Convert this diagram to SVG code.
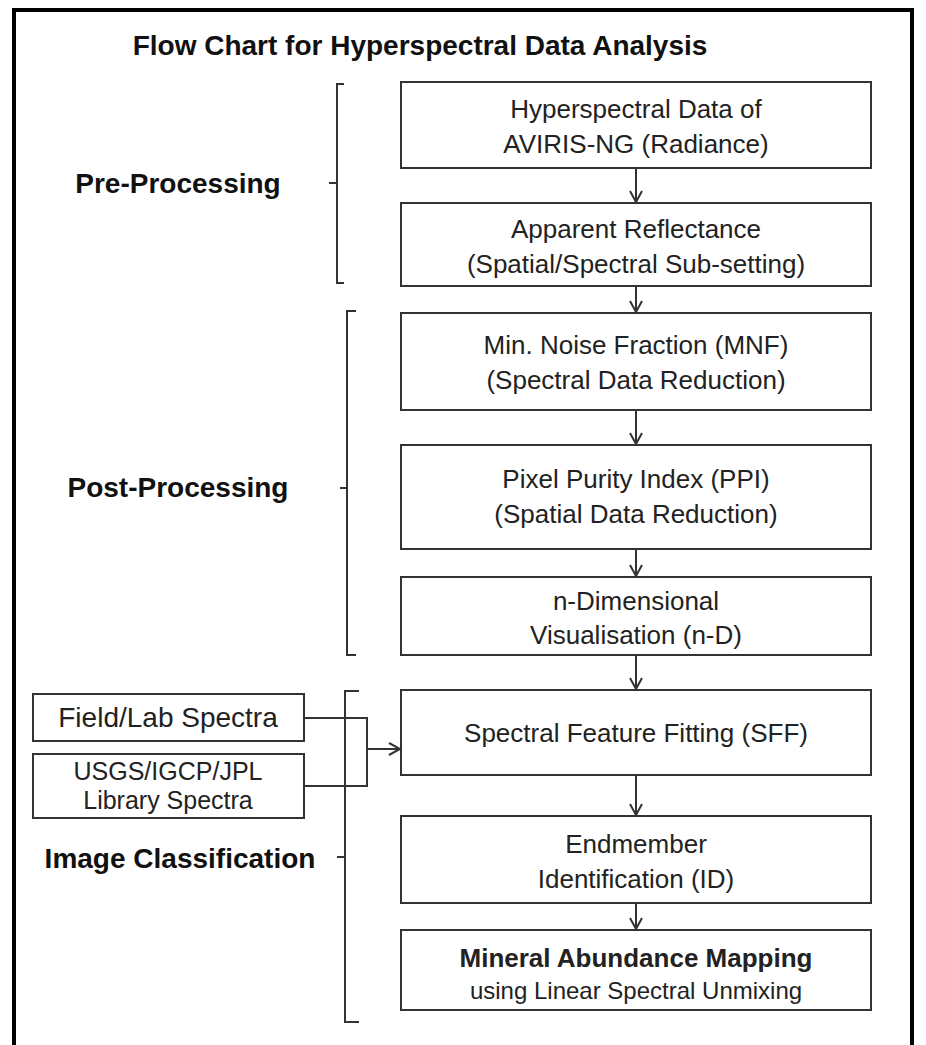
<svg xmlns="http://www.w3.org/2000/svg" width="926" height="1045" viewBox="0 0 926 1045">
<defs>
<style>
.b{fill:#fff;stroke:#333;stroke-width:2}
.t{font-family:"Liberation Sans",Arial,sans-serif;font-size:26px;fill:#222;text-anchor:middle}
.l{font-family:"Liberation Sans",Arial,sans-serif;font-size:28px;font-weight:bold;fill:#111;text-anchor:middle}
.c{fill:none;stroke:#333;stroke-width:2}
</style>
<marker id="a" markerWidth="14" markerHeight="14" refX="12" refY="7" orient="auto" markerUnits="userSpaceOnUse">
<path d="M1,1 L12,7 L1,13" fill="none" stroke="#333" stroke-width="2"/>
</marker>
</defs>
<rect width="926" height="1045" fill="#fff"/>
<path d="M14,1045 V10 H912 V1045" fill="none" stroke="#000" stroke-width="4"/>
<text class="l" x="420" y="55" style="font-size:28px">Flow Chart for Hyperspectral Data Analysis</text>
<g id="labels">
<text class="l" x="178" y="193">Pre-Processing</text>
<text class="l" x="178" y="497">Post-Processing</text>
<text class="l" x="180" y="868">Image Classification</text>
<path class="c" d="M344,84 H337 V283 H344 M337,183 H329"/>
<path class="c" d="M356,311 H347 V655 H356 M347,488 H340"/>
<path class="c" d="M359,691 H345 V1022 H359 M345,857 H337"/>
</g>
<g id="n1"><rect class="b" x="401" y="82" width="470" height="86"/><text class="t" x="636" y="118">Hyperspectral  Data of</text><text class="t" x="636" y="153">AVIRIS-NG  (Radiance)</text></g>
<g id="n2"><rect class="b" x="401" y="203" width="470" height="83"/><text class="t" x="636" y="238">Apparent Reflectance</text><text class="t" x="636" y="273">(Spatial/Spectral Sub-setting)</text></g>
<g id="n3"><rect class="b" x="401" y="313" width="470" height="97"/><text class="t" x="636" y="354">Min. Noise Fraction (MNF)</text><text class="t" x="636" y="389">(Spectral Data Reduction)</text></g>
<g id="n4"><rect class="b" x="401" y="445" width="470" height="104"/><text class="t" x="636" y="488">Pixel Purity Index  (PPI)</text><text class="t" x="636" y="523">(Spatial Data Reduction)</text></g>
<g id="n5"><rect class="b" x="401" y="577" width="470" height="78"/><text class="t" x="636" y="610">n-Dimensional</text><text class="t" x="636" y="644">Visualisation (n-D)</text></g>
<g id="n6"><rect class="b" x="401" y="690" width="470" height="85"/><text class="t" x="636" y="742">Spectral Feature Fitting (SFF)</text></g>
<g id="n7"><rect class="b" x="401" y="816" width="470" height="87"/><text class="t" x="636" y="853">Endmember</text><text class="t" x="636" y="888">Identification (ID)</text></g>
<g id="n8"><rect class="b" x="401" y="930" width="470" height="80"/><text class="t" x="636" y="967" style="font-weight:bold">Mineral Abundance Mapping</text><text class="t" x="636" y="999" style="font-size:24px">using Linear Spectral Unmixing</text></g>
<g id="s1"><rect class="b" x="33" y="694" width="271" height="47"/><text class="t" x="168" y="727" style="font-size:28px">Field/Lab Spectra</text></g>
<g id="s2"><rect class="b" x="33" y="754" width="271" height="64"/><text class="t" x="168" y="780" style="font-size:25px">USGS/IGCP/JPL</text><text class="t" x="168" y="809" style="font-size:25px">Library Spectra</text></g>
<g id="connectors">
<path class="c" d="M636,168 V202" marker-end="url(#a)"/>
<path class="c" d="M636,286 V312" marker-end="url(#a)"/>
<path class="c" d="M636,410 V444" marker-end="url(#a)"/>
<path class="c" d="M636,549 V576" marker-end="url(#a)"/>
<path class="c" d="M636,655 V689" marker-end="url(#a)"/>
<path class="c" d="M636,775 V815" marker-end="url(#a)"/>
<path class="c" d="M636,903 V929" marker-end="url(#a)"/>
<path class="c" d="M304,718 H367 V786 H304"/>
<path class="c" d="M367,749 H400" marker-end="url(#a)"/>
</g>
</svg>
